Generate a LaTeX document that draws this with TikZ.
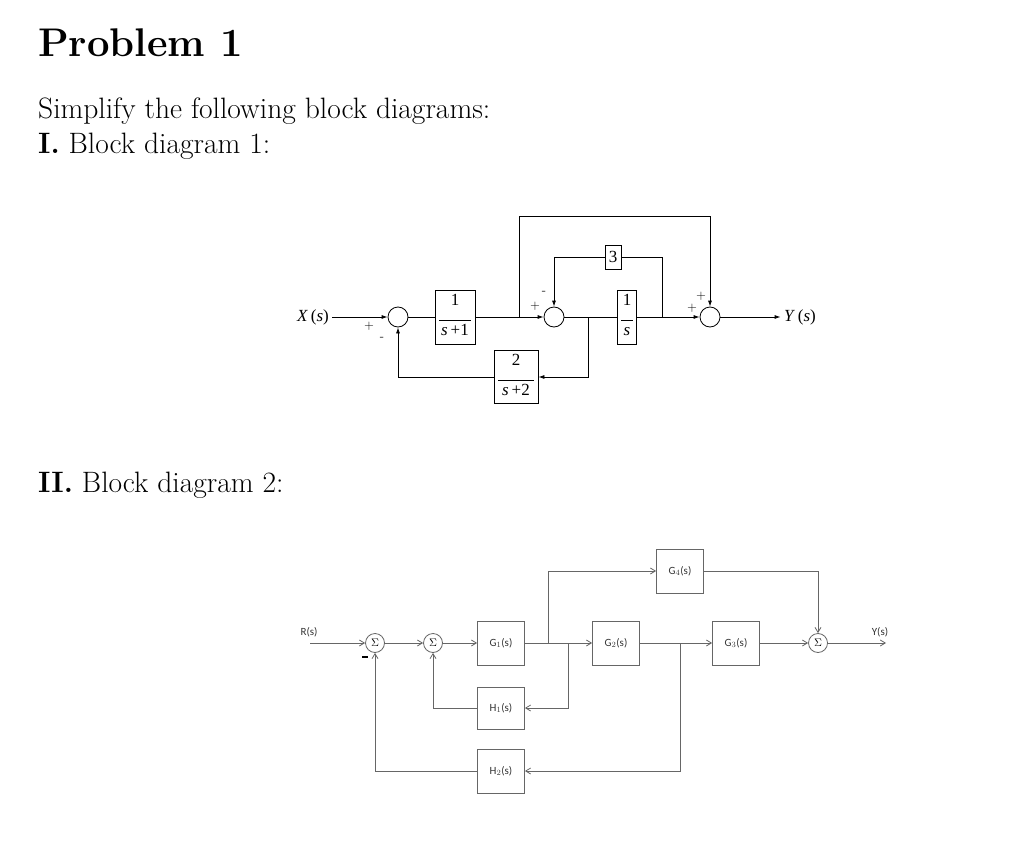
\documentclass[tikz,border=0pt]{standalone}
\usepackage{fontspec}
\newfontfamily\calib{Carlito}
\newfontfamily\tms{Liberation Serif}
\usetikzlibrary{arrows.meta}
\begin{document}
\begin{tikzpicture}[x=1pt,y=-1pt,
  blk/.style={draw,thick,inner sep=0,anchor=center},
  sm/.style={draw,thick,circle,minimum size=20pt,inner sep=0},
  a1/.style={-{Latex[length=6pt,width=4pt]},thick},
  l1/.style={thick},
  g/.style={draw=gray!80!black,line width=0.8pt},
  gblk/.style={g,minimum width=47pt,minimum height=44pt,inner sep=0,font=\calib\fontsize{11}{13}\selectfont,text=black!80},
  gsum/.style={g,circle,minimum size=19pt,inner sep=0,font=\fontsize{11}{12}\selectfont},
  a2/.style={-{Straight Barb[length=5pt,width=6pt]},draw=gray!80!black,line width=0.8pt},
  l2/.style={draw=gray!80!black,line width=0.8pt}]
\useasboundingbox (0,0) rectangle (1024,842);
% texts
\node[anchor=base west,inner sep=0,font=\bfseries\fontsize{40}{46}\selectfont] (t1) at (38,57) {Problem 1};
\node[anchor=base west,inner sep=0,font=\fontsize{29.5}{34}\selectfont] (t2) at (38,119) {Simplify the following block diagrams:};
\node[anchor=base west,inner sep=0,font=\fontsize{29.5}{34}\selectfont] (t3) at (38,154) {\textbf{I.} Block diagram 1:};
\node[anchor=base west,inner sep=0,font=\fontsize{29.5}{34}\selectfont] (t4) at (38,492) {\textbf{II.} Block diagram 2:};
% diagram 1
\begin{scope}[font=\tms\fontsize{17}{19}\selectfont]
\node (X) at (313,317) {\textit{X}\,(\textit{s})};
\node[sm] (s1) at (398,317) {};
\node[blk,minimum width=40pt,minimum height=54pt] (b1) at (455,317) {\begin{tabular}{@{}c@{}}1\\[-4pt]\rule{32pt}{0.5pt}\\[-4pt]\textit{s}\,+1\end{tabular}};
\node[sm] (s2) at (554,317) {};
\node[blk,minimum width=19pt,minimum height=54pt] (b2) at (627,317) {\begin{tabular}{@{}c@{}}1\\[-4pt]\rule{12pt}{0.5pt}\\[-4pt]\textit{s}\end{tabular}};
\node[sm] (s3) at (710,317) {};
\node (Y) at (800,317) {\textit{Y}\,(\textit{s})};
\node[blk,minimum width=16pt,minimum height=24pt] (b3) at (613,257) {3};
\node[blk,minimum width=44pt,minimum height=53pt] (b4) at (516,377) {\begin{tabular}{@{}c@{}}2\\[-4pt]\rule{36pt}{0.5pt}\\[-4pt]\textit{s}\,+2\end{tabular}};
\coordinate (p1) at (519,317);
\coordinate (p2) at (588,317);
\coordinate (p3) at (662,317);
\draw[a1] (X) -- (s1);
\draw[l1] (s1) -- (b1);
\draw[l1] (b1) -- (p1);
\draw[a1] (p1) -- (s2);
\draw[l1] (s2) -- (b2);
\draw[l1] (b2) -- (p3);
\draw[a1] (p3) -- (s3);
\draw[a1] (s3) -- (Y);
\draw[a1] (p1) |- (710,216) -- (s3);
\draw[l1] (p3) |- (b3);
\draw[a1] (b3) -| (s2);
\draw[a1] (p2) |- (b4);
\draw[a1] (b4) -| (s1);
\node[font=\fontsize{13}{13}\selectfont,inner sep=1pt] (m1) at (369,326) {+};
\node[font=\fontsize{13}{13}\selectfont,inner sep=1pt] (m2) at (382,339) {-};
\node[font=\fontsize{13}{13}\selectfont,inner sep=1pt] (m3) at (535,306) {+};
\node[font=\fontsize{13}{13}\selectfont,inner sep=1pt] (m4) at (544,293) {-};
\node[font=\fontsize{13}{13}\selectfont,inner sep=1pt] (m5) at (701,296) {+};
\node[font=\fontsize{13}{13}\selectfont,inner sep=1pt] (m6) at (692,308) {+};
\end{scope}
% diagram 2
\node[font=\calib\fontsize{11}{13}\selectfont,text=black!80] (R) at (309,632) {R(s)};
\node[font=\calib\fontsize{11}{13}\selectfont,text=black!80] (Yo) at (880,632) {Y(s)};
\coordinate (Rs) at (310,643);
\coordinate (Ye) at (886,643);
\node[gsum] (g1) at (375,643) {$\Sigma$};
\node[gsum] (g2) at (433,643) {$\Sigma$};
\node[gsum] (g3) at (818,643) {$\Sigma$};
\node[gblk] (G1) at (501,643) {G$_1$(s)};
\node[gblk] (G2) at (616,643) {G$_2$(s)};
\node[gblk] (G3) at (736,643) {G$_3$(s)};
\node[gblk] (G4) at (680,571) {G$_4$(s)};
\node[gblk,minimum height=42pt] (H1) at (501,708) {H$_1$(s)};
\node[gblk] (H2) at (501,771) {H$_2$(s)};
\coordinate (q1) at (548,643);
\coordinate (q2) at (568,643);
\coordinate (q3) at (680,643);
\draw[a2] (Rs) -- (g1);
\draw[a2] (g1) -- (g2);
\draw[a2] (g2) -- (G1);
\draw[l2] (G1) -- (q2);
\draw[a2] (q2) -- (G2);
\draw[l2] (G2) -- (q3);
\draw[a2] (q3) -- (G3);
\draw[a2] (G3) -- (g3);
\draw[a2] (g3) -- (Ye);
\draw[a2] (q1) |- (G4);
\draw[a2] (G4) -| (g3);
\draw[a2] (q2) |- (H1);
\draw[a2] (H1) -| (g2);
\draw[a2] (q3) |- (H2);
\draw[a2] (H2) -| (g1);
\draw[line width=1.3pt] (362,657) -- (368,657);
\end{tikzpicture}
\end{document}
